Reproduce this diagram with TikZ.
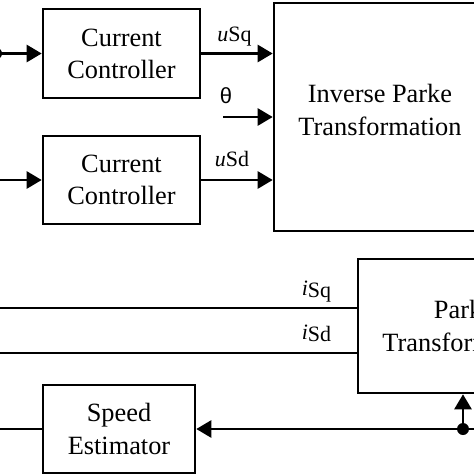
\documentclass[tikz,border=0pt]{standalone}
\usepackage{fontspec}
\setmainfont{Liberation Serif}
\newfontfamily\thetafont{Liberation Sans}
\usepackage{tikz}
\usetikzlibrary{arrows.meta}

\begin{document}
\begin{tikzpicture}[x=0.02cm, y=-0.02cm, line width=1.5pt,
  >={Triangle[length=0.3cm, width=0.34cm]},
  block/.style={draw, rectangle, align=center, inner sep=0pt, font=\fontsize{15}{18.3}\selectfont},
  blocktext/.style={align=center, inner sep=0pt, font=\fontsize{15}{18.3}\selectfont},
  sig/.style={anchor=base, inner sep=0pt, font=\fontsize{12.5}{15}\selectfont},
  dot/.style={circle, fill, inner sep=0pt, minimum size=0.24cm}
]
  \useasboundingbox (0,0) rectangle (474,474);

  \node[block, minimum width=3.14cm, minimum height=1.78cm] (cc1) at (121.5,53.5) {Current\\Controller};
  \node[block, minimum width=3.14cm, minimum height=1.76cm] (cc2) at (121.5,180) {Current\\Controller};
  \node[block, minimum width=4.24cm, minimum height=4.56cm] (ipt) at (380,117) {};
  \node[blocktext] (ipttext) at (380,110) {Inverse Parke\\Transformation};
  \node[block, minimum width=4.24cm, minimum height=2.68cm] (pt) at (464,326) {Parke\\Transformation};
  \node[block, minimum width=3.04cm, minimum height=1.76cm] (sp) at (119,429) {Speed\\Estimator};

  % inputs of the current controllers
  \node[dot] (j0) at (-4,53.5) {};
  \draw[->] (j0.center) -- (cc1.west);
  \coordinate (in2) at (-5,180);
  \draw[->] (in2) -- (cc2.west);

  % into the inverse transformation
  \draw[->] (cc1.east) -- (cc1.east -| ipt.west);
  \node[sig] (usq) at (234.5,41) {\textit{u}Sq};
  \coordinate (th) at (223,117);
  \draw[->] (th) -- (th -| ipt.west);
  \node[sig, font=\fontsize{12.5}{15}\thetafont] (thlbl) at (226,103) {θ};
  \draw[->] (cc2.east) -- (cc2.east -| ipt.west);
  \node[sig] (usd) at (232,166) {\textit{u}Sd};

  % currents
  \coordinate (isq) at (-5,308);
  \draw (isq) -- (isq -| pt.west);
  \node[sig] (isqlbl) at (316.5,295) {\textit{i}\raisebox{-1.5pt}{Sq}};
  \coordinate (isd) at (-5,353);
  \draw (isd) -- (isd -| pt.west);
  \node[sig] (isdlbl) at (316.5,339) {\textit{i}\raisebox{-1.5pt}{Sd}};

  % feedback
  \node[dot] (jn) at (463,429) {};
  \coordinate (fb) at (480,429);
  \draw (fb) -- (jn.center);
  \draw[->] (jn.center) -- (sp.east);
  \draw[->] (jn.center) -- (jn.center |- pt.south);
  \coordinate (spout) at (-5,429);
  \draw (sp.west) -- (spout);
\end{tikzpicture}
\end{document}
